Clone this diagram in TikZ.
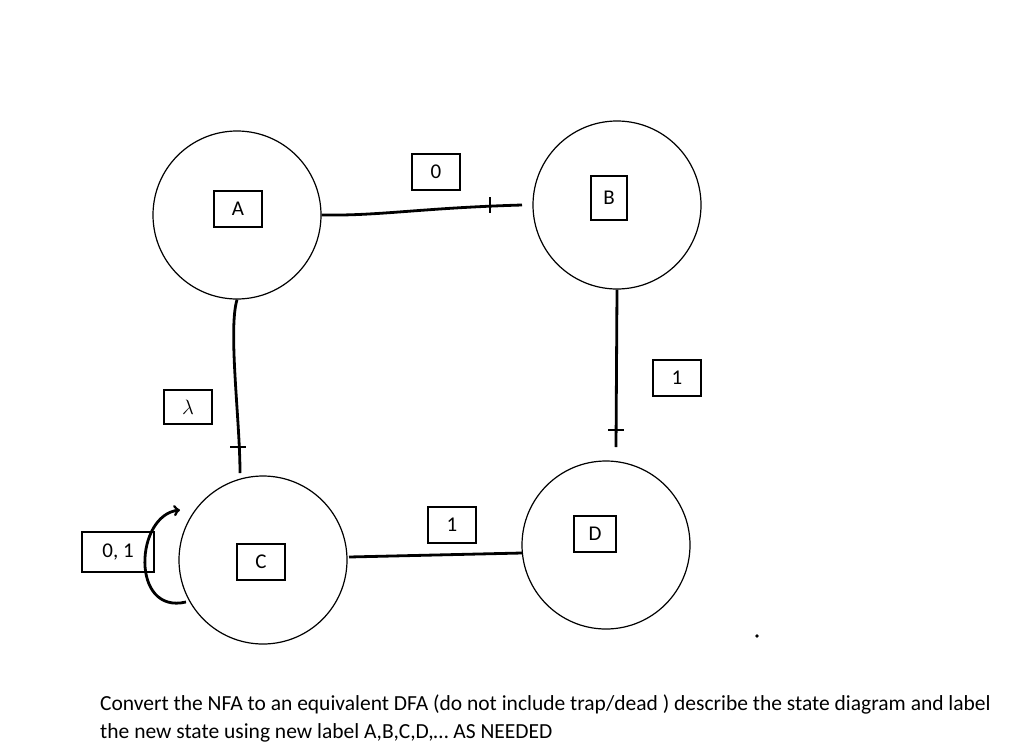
\documentclass[tikz,border=0pt]{standalone}
\usepackage{fontspec}
\setmainfont{Carlito}
\tikzset{
  state/.style={draw, circle, line width=1.2pt, minimum size=168pt, inner sep=0pt},
  lbl/.style={draw, line width=1.1pt, minimum width=48pt, minimum height=36pt, inner sep=0pt, font=\fontsize{21}{22}\selectfont},
  edge/.style={line width=2.8pt},
}
\begin{document}
\begin{tikzpicture}[x=1pt,y=-1pt]
        \useasboundingbox (0,0) rectangle (1024,752);

        \node[state] (A) at (237,215) {};
        \node[state] (B) at (617,205) {};
        \node[state] (C) at (263,560) {};
        \node[state] (D) at (606,545) {};

        \node[lbl] (la) at (238,209) {A};
        \node[lbl, minimum width=36pt, minimum height=44pt] (lb) at (609,198) {B};
        \node[lbl] (lc) at (261,562) {C};
        \node[lbl, minimum width=42pt] (ld) at (595,534) {D};

        \node[lbl] (l0) at (436,172) {0};
        \node[lbl] (l1a) at (677,378) {1};
        \node[lbl, minimum height=34pt] (llam) at (188,407) {$\lambda$};
        \node[lbl] (l1b) at (452,525) {1};
        \node[lbl, minimum width=72pt, minimum height=40pt] (l01) at (118,552) {0, 1};

        % connectors
        \coordinate (ab) at (522,205);
        \coordinate (bd) at (616,447);
        \coordinate (ac) at (240,473);
        \coordinate (cd) at (522,553);
        \draw[edge] (A.east) .. controls (380,216) and (420,208) .. (ab);
        \draw[edge] (490,197) -- (490,213);
        \draw[edge] (B.south) -- (bd);
        \draw[edge] (608,430) -- (624,430);
        \draw[edge] (A.south) .. controls (228,330) and (240,420) .. (ac);
        \draw[edge] (230,447) -- (246,447);
        \draw[edge] (349,557) -- (cd);
        \draw[edge, ->] (186,602) .. controls (130,615) and (135,515) .. (180,510);

        \fill (757,636) circle (1.8);

        \node[anchor=north west, align=left, font=\fontsize{21.5}{28}\selectfont, inner sep=0pt] (txt) at (100,695)
          {Convert the NFA to an equivalent DFA (do not include trap/dead ) describe the state diagram and label\\
           the new state using new label A,B,C,D,… AS NEEDED};
\end{tikzpicture}
\end{document}
